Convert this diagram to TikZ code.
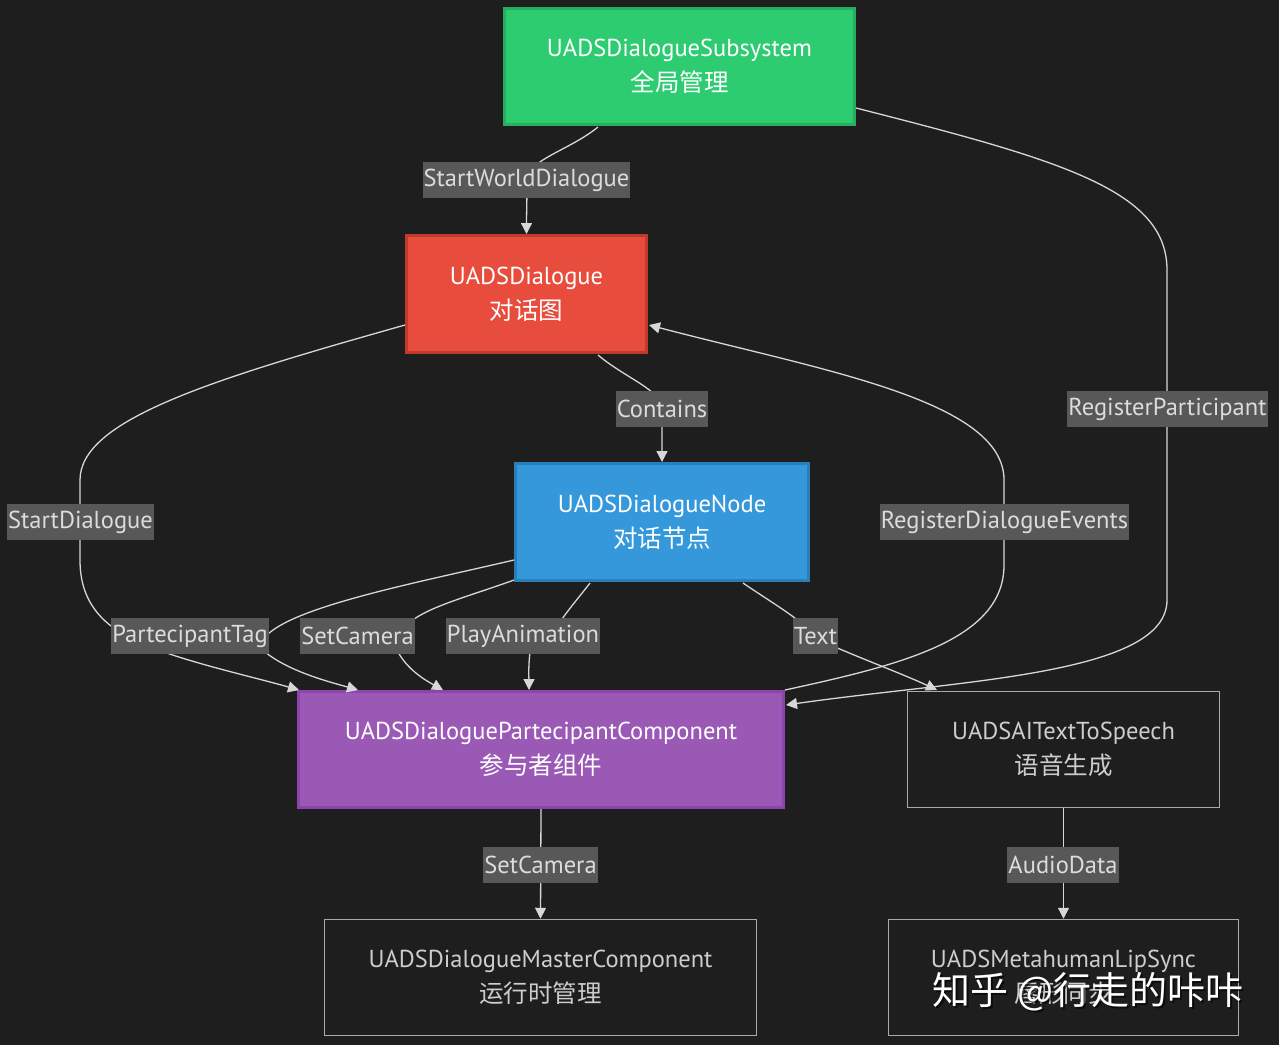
\documentclass[tikz,border=0pt]{standalone}
\usepackage{fontspec}
\setmainfont{PT Sans}
\newfontfamily\cjk{Noto Sans CJK SC}
\usetikzlibrary{arrows.meta,calc}
\definecolor{bg}{RGB}{30,30,30}
\definecolor{gfill}{HTML}{2ECC71}\definecolor{gline}{HTML}{27AE60}
\definecolor{rfill}{HTML}{E74C3C}\definecolor{rline}{HTML}{C0392B}
\definecolor{bfill}{HTML}{3498DB}\definecolor{bline}{HTML}{2980B9}
\definecolor{pfill}{HTML}{9B59B6}\definecolor{pline}{HTML}{8E44AD}
\definecolor{plainline}{RGB}{170,170,170}
\definecolor{plaintext}{RGB}{205,205,205}
\definecolor{edgecol}{RGB}{215,215,215}
\definecolor{lblfill}{RGB}{88,88,88}
\definecolor{lbltext}{RGB}{220,220,220}
\tikzset{
  box/.style={rectangle, align=center, line width=3pt, text=white, inner sep=0pt},
  plainbox/.style={rectangle, align=center, draw=plainline, line width=1.5pt, fill=bg, text=plaintext, inner sep=0pt},
  lbl/.style={rectangle, fill=lblfill, text=lbltext, inner xsep=1pt, inner ysep=0pt, minimum height=36pt},
  edge/.style={draw=edgecol, line width=1.3pt},
  arr/.style={edge, -{Triangle[length=11pt,width=11pt]}},
  rarr/.style={edge, {Triangle[length=11pt,width=11pt]}-},
}
\begin{document}
\begin{tikzpicture}[x=1pt,y=-1pt, font=\fontsize{24.5}{35}\selectfont]
\fill[bg] (0,0) rectangle (1279,1045);
\useasboundingbox (0,0) rectangle (1279,1045);

% nodes
\node[box, fill=gfill, draw=gline, minimum width=350pt, minimum height=116pt] (sub) at (679.5,66.5) {UADSDialogueSubsystem\\{\cjk 全局管理}};
\node[box, fill=rfill, draw=rline, minimum width=240pt, minimum height=117pt] (dlg) at (526.5,294) {UADSDialogue\\{\cjk 对话图}};
\node[box, fill=bfill, draw=bline, minimum width=293pt, minimum height=117pt] (nd) at (662,522) {UADSDialogueNode\\{\cjk 对话节点}};
\node[box, fill=pfill, draw=pline, minimum width=485pt, minimum height=116pt] (part) at (541,749.5) {UADSDialoguePartecipantComponent\\{\cjk 参与者组件}};
\node[plainbox, minimum width=312pt, minimum height=116pt] (tts) at (1063.5,749.5) {UADSAITextToSpeech\\{\cjk 语音生成}};
\node[plainbox, minimum width=432pt, minimum height=116pt] (master) at (540.5,977.5) {UADSDialogueMasterComponent\\{\cjk 运行时管理}};
\node[plainbox, minimum width=350pt, minimum height=116pt] (lip) at (1063.5,977.5) {UADSMetahumanLipSync\\{\cjk 唇形同步}};

% edge anchor coordinates
\coordinate (subA) at (598,127);
\coordinate (subR) at (856,108);
\coordinate (dlgB) at (598,355);
\coordinate (dlgL) at (405,325);
\coordinate (dlgR) at (649,325);
\coordinate (ndL1) at (514,560);
\coordinate (ndL2) at (514,580);
\coordinate (ndB1) at (590,583);
\coordinate (ndB2) at (743,583);
\coordinate (partT1) at (299,690);
\coordinate (partT2) at (358,690);
\coordinate (partT3) at (443,690);
\coordinate (partT4) at (529,690);
\coordinate (partTR) at (785,690);
\coordinate (partR) at (786,705);
\coordinate (ttsT) at (937,690);

% edges
\draw[arr] (subA) .. controls (570,150) and (527,160) .. (527,180) .. controls (527,200) and (526.5,215) .. (dlg.north);
\draw[arr] (dlgB) .. controls (625,378) and (662,390) .. (662,409) .. controls (662,430) and (662,445) .. (nd.north);
\draw[arr] (dlgL) .. controls (210,380) and (80,420) .. (80,480) -- (80,560) .. controls (80,600) and (100,625) .. (140,643) .. controls (185,662) and (250,676) .. (partT1);
\draw[rarr] (dlgR) .. controls (820,370) and (1004,400) .. (1004,480) -- (1004,565) .. controls (1004,640) and (900,665) .. (partTR);
\draw[arr] (subR) .. controls (1060,160) and (1167,190) .. (1167,270) -- (1167,600) .. controls (1167,675) and (960,680) .. (partR);
\draw[arr] (ndL1) .. controls (420,582) and (300,605) .. (268,634) -- (265,652) .. controls (290,672) and (330,682) .. (partT2);
\draw[arr] (ndL2) .. controls (470,596) and (430,606) .. (410,622) -- (398,652) .. controls (408,670) and (425,680) .. (partT3);
\draw[arr] (ndB1) .. controls (580,596) and (568,610) .. (560,622) -- (530,652) .. controls (528,670) and (529,680) .. (partT4);
\draw[arr] (ndB2) .. controls (765,598) and (785,610) .. (800,622) -- (835,647) .. controls (875,664) and (905,675) .. (ttsT);
\draw[arr] (part.south) -- (master.north);
\draw[arr] (tts.south) -- (lip.north);

% labels
\node[lbl] (l1) at (526.5,180) {StartWorldDialogue};
\node[lbl] (l2) at (662,409) {Contains};
\node[lbl] (l3) at (80.5,522) {StartDialogue};
\node[lbl] (l4) at (1004.5,522) {RegisterDialogueEvents};
\node[lbl] (l5) at (1167.5,409) {RegisterParticipant};
\node[lbl] (l6) at (190,636) {PartecipantTag};
\node[lbl] (l7) at (357.5,636) {SetCamera};
\node[lbl] (l8) at (523,636) {PlayAnimation};
\node[lbl] (l9) at (815.5,636) {Text};
\node[lbl] (l10) at (540.5,865) {SetCamera};
\node[lbl] (l11) at (1063,865) {AudioData};

% watermark
\node[text=black, opacity=0.6, font=\cjk\fontsize{38}{40}\selectfont] at (1090,994) {知乎 @行走的咔咔};
\node[text=white, font=\cjk\fontsize{38}{40}\selectfont] (wm) at (1088,992) {知乎 @行走的咔咔};
\end{tikzpicture}
\end{document}
